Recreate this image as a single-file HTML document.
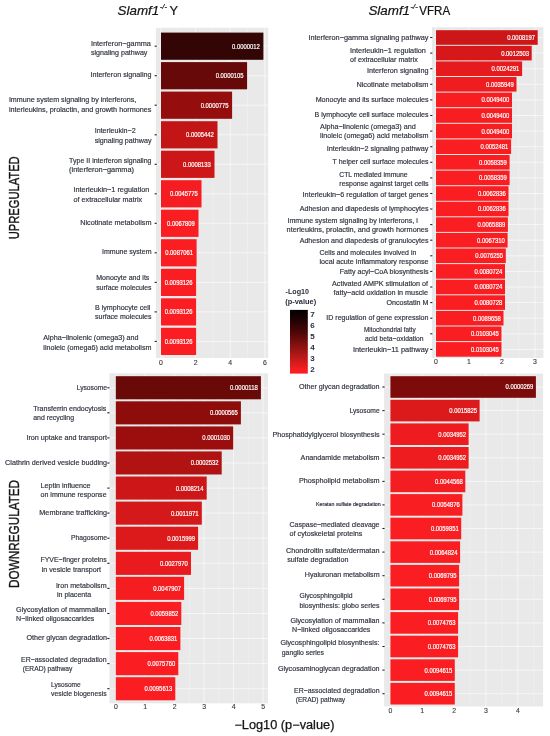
<!DOCTYPE html>
<html lang="en"><head><meta charset="utf-8"><title>Slamf1 pathway enrichment</title>
<style>
html,body{margin:0;padding:0;background:#ffffff;}
svg{display:block;font-family:"Liberation Sans", sans-serif;}
svg text{white-space:pre;}
</style></head><body>
<svg width="550" height="736" viewBox="0 0 550 736">
<rect width="550" height="736" fill="#ffffff"/>
<rect x="155.9" y="27.8" width="112.3" height="330.2" fill="#e9e9e9"/>
<line x1="178.3" x2="178.3" y1="27.8" y2="358.0" stroke="#f1f1f1" stroke-width="0.7"/>
<line x1="212.9" x2="212.9" y1="27.8" y2="358.0" stroke="#f1f1f1" stroke-width="0.7"/>
<line x1="247.5" x2="247.5" y1="27.8" y2="358.0" stroke="#f1f1f1" stroke-width="0.7"/>
<line x1="161.0" x2="161.0" y1="27.8" y2="358.0" stroke="#f7f7f7" stroke-width="0.9"/>
<line x1="195.6" x2="195.6" y1="27.8" y2="358.0" stroke="#f7f7f7" stroke-width="0.9"/>
<line x1="230.2" x2="230.2" y1="27.8" y2="358.0" stroke="#f7f7f7" stroke-width="0.9"/>
<line x1="264.8" x2="264.8" y1="27.8" y2="358.0" stroke="#f7f7f7" stroke-width="0.9"/>
<line x1="155.9" x2="268.2" y1="46.2" y2="46.2" stroke="#f7f7f7" stroke-width="0.9"/>
<line x1="155.9" x2="268.2" y1="75.7" y2="75.7" stroke="#f7f7f7" stroke-width="0.9"/>
<line x1="155.9" x2="268.2" y1="105.2" y2="105.2" stroke="#f7f7f7" stroke-width="0.9"/>
<line x1="155.9" x2="268.2" y1="134.8" y2="134.8" stroke="#f7f7f7" stroke-width="0.9"/>
<line x1="155.9" x2="268.2" y1="164.3" y2="164.3" stroke="#f7f7f7" stroke-width="0.9"/>
<line x1="155.9" x2="268.2" y1="193.8" y2="193.8" stroke="#f7f7f7" stroke-width="0.9"/>
<line x1="155.9" x2="268.2" y1="223.3" y2="223.3" stroke="#f7f7f7" stroke-width="0.9"/>
<line x1="155.9" x2="268.2" y1="252.8" y2="252.8" stroke="#f7f7f7" stroke-width="0.9"/>
<line x1="155.9" x2="268.2" y1="282.4" y2="282.4" stroke="#f7f7f7" stroke-width="0.9"/>
<line x1="155.9" x2="268.2" y1="311.9" y2="311.9" stroke="#f7f7f7" stroke-width="0.9"/>
<line x1="155.9" x2="268.2" y1="341.4" y2="341.4" stroke="#f7f7f7" stroke-width="0.9"/>
<rect x="161.0" y="32.6" width="102.4" height="27.2" fill="#330504"/>
<text x="259.8" y="48.6" text-anchor="end" font-size="7.0" fill="#ffffff" stroke="#ffffff" stroke-width="0.2" textLength="27.8" lengthAdjust="spacingAndGlyphs">0.0000012</text>
<line x1="154.6" x2="156.79999999999998" y1="46.2" y2="46.2" stroke="#222" stroke-width="1.1"/>
<rect x="161.0" y="62.1" width="86.1" height="27.2" fill="#660908"/>
<text x="243.5" y="78.1" text-anchor="end" font-size="7.0" fill="#ffffff" stroke="#ffffff" stroke-width="0.2" textLength="27.8" lengthAdjust="spacingAndGlyphs">0.0000105</text>
<line x1="154.6" x2="156.79999999999998" y1="75.7" y2="75.7" stroke="#222" stroke-width="1.1"/>
<rect x="161.0" y="91.6" width="71.1" height="27.2" fill="#950d0c"/>
<text x="228.5" y="107.6" text-anchor="end" font-size="7.0" fill="#ffffff" stroke="#ffffff" stroke-width="0.2" textLength="27.8" lengthAdjust="spacingAndGlyphs">0.0000775</text>
<line x1="154.6" x2="156.79999999999998" y1="105.2" y2="105.2" stroke="#222" stroke-width="1.1"/>
<rect x="161.0" y="121.2" width="56.5" height="27.2" fill="#c31516"/>
<text x="213.9" y="137.2" text-anchor="end" font-size="7.0" fill="#ffffff" stroke="#ffffff" stroke-width="0.2" textLength="27.8" lengthAdjust="spacingAndGlyphs">0.0005442</text>
<line x1="154.6" x2="156.79999999999998" y1="134.8" y2="134.8" stroke="#222" stroke-width="1.1"/>
<rect x="161.0" y="150.7" width="53.5" height="27.2" fill="#cc1618"/>
<text x="210.9" y="166.7" text-anchor="end" font-size="7.0" fill="#ffffff" stroke="#ffffff" stroke-width="0.2" textLength="27.8" lengthAdjust="spacingAndGlyphs">0.0008133</text>
<line x1="154.6" x2="156.79999999999998" y1="164.3" y2="164.3" stroke="#222" stroke-width="1.1"/>
<rect x="161.0" y="180.2" width="40.5" height="27.2" fill="#f51d21"/>
<text x="197.9" y="196.2" text-anchor="end" font-size="7.0" fill="#ffffff" stroke="#ffffff" stroke-width="0.2" textLength="27.8" lengthAdjust="spacingAndGlyphs">0.0045775</text>
<line x1="154.6" x2="156.79999999999998" y1="193.8" y2="193.8" stroke="#222" stroke-width="1.1"/>
<rect x="161.0" y="209.7" width="37.5" height="27.2" fill="#fa1e22"/>
<text x="194.9" y="225.7" text-anchor="end" font-size="7.0" fill="#ffffff" stroke="#ffffff" stroke-width="0.2" textLength="27.8" lengthAdjust="spacingAndGlyphs">0.0067809</text>
<line x1="154.6" x2="156.79999999999998" y1="223.3" y2="223.3" stroke="#222" stroke-width="1.1"/>
<rect x="161.0" y="239.2" width="35.6" height="27.2" fill="#fa1e22"/>
<text x="193.0" y="255.2" text-anchor="end" font-size="7.0" fill="#ffffff" stroke="#ffffff" stroke-width="0.2" textLength="27.8" lengthAdjust="spacingAndGlyphs">0.0087061</text>
<line x1="154.6" x2="156.79999999999998" y1="252.8" y2="252.8" stroke="#222" stroke-width="1.1"/>
<rect x="161.0" y="268.8" width="35.1" height="27.2" fill="#fa1e22"/>
<text x="192.5" y="284.8" text-anchor="end" font-size="7.0" fill="#ffffff" stroke="#ffffff" stroke-width="0.2" textLength="27.8" lengthAdjust="spacingAndGlyphs">0.0093126</text>
<line x1="154.6" x2="156.79999999999998" y1="282.4" y2="282.4" stroke="#222" stroke-width="1.1"/>
<rect x="161.0" y="298.3" width="35.1" height="27.2" fill="#fa1e22"/>
<text x="192.5" y="314.3" text-anchor="end" font-size="7.0" fill="#ffffff" stroke="#ffffff" stroke-width="0.2" textLength="27.8" lengthAdjust="spacingAndGlyphs">0.0093126</text>
<line x1="154.6" x2="156.79999999999998" y1="311.9" y2="311.9" stroke="#222" stroke-width="1.1"/>
<rect x="161.0" y="327.8" width="35.1" height="27.2" fill="#fa1e22"/>
<text x="192.5" y="343.8" text-anchor="end" font-size="7.0" fill="#ffffff" stroke="#ffffff" stroke-width="0.2" textLength="27.8" lengthAdjust="spacingAndGlyphs">0.0093126</text>
<line x1="154.6" x2="156.79999999999998" y1="341.4" y2="341.4" stroke="#222" stroke-width="1.1"/>
<text x="91.0" y="45.6" font-size="7.3" fill="#30343f" stroke="#30343f" stroke-width="0.18" textLength="59.9" lengthAdjust="spacingAndGlyphs">Interferon−gamma</text>
<text x="91.0" y="54.9" font-size="7.3" fill="#30343f" stroke="#30343f" stroke-width="0.18" textLength="56.4" lengthAdjust="spacingAndGlyphs">signaling pathway</text>
<text x="151.5" y="76.7" text-anchor="end" font-size="7.3" fill="#30343f" stroke="#30343f" stroke-width="0.18" textLength="61.1" lengthAdjust="spacingAndGlyphs">Interferon signaling</text>
<text x="8.9" y="102.3" font-size="7.3" fill="#30343f" stroke="#30343f" stroke-width="0.18" textLength="127.4" lengthAdjust="spacingAndGlyphs">Immune system signaling by interferons,</text>
<text x="8.9" y="112.0" font-size="7.3" fill="#30343f" stroke="#30343f" stroke-width="0.18" textLength="142.6" lengthAdjust="spacingAndGlyphs">interleukins, prolactin, and growth hormones</text>
<text x="94.7" y="132.9" font-size="7.3" fill="#30343f" stroke="#30343f" stroke-width="0.18" textLength="41.0" lengthAdjust="spacingAndGlyphs">Interleukin−2</text>
<text x="94.7" y="142.8" font-size="7.3" fill="#30343f" stroke="#30343f" stroke-width="0.18" textLength="56.8" lengthAdjust="spacingAndGlyphs">signaling pathway</text>
<text x="69.1" y="162.5" font-size="7.3" fill="#30343f" stroke="#30343f" stroke-width="0.18" textLength="82.4" lengthAdjust="spacingAndGlyphs">Type II interferon signaling</text>
<text x="69.1" y="172.1" font-size="7.3" fill="#30343f" stroke="#30343f" stroke-width="0.18" textLength="64.9" lengthAdjust="spacingAndGlyphs">(interferon−gamma)</text>
<text x="73.5" y="192.0" font-size="7.3" fill="#30343f" stroke="#30343f" stroke-width="0.18" textLength="75.9" lengthAdjust="spacingAndGlyphs">Interleukin−1 regulation</text>
<text x="73.5" y="201.7" font-size="7.3" fill="#30343f" stroke="#30343f" stroke-width="0.18" textLength="68.6" lengthAdjust="spacingAndGlyphs">of extracellular matrix</text>
<text x="151.5" y="225.1" text-anchor="end" font-size="7.3" fill="#30343f" stroke="#30343f" stroke-width="0.18" textLength="71.3" lengthAdjust="spacingAndGlyphs">Nicotinate metabolism</text>
<text x="151.5" y="254.1" text-anchor="end" font-size="7.3" fill="#30343f" stroke="#30343f" stroke-width="0.18" textLength="49.5" lengthAdjust="spacingAndGlyphs">Immune system</text>
<text x="96.2" y="279.8" font-size="7.3" fill="#30343f" stroke="#30343f" stroke-width="0.18" textLength="53.2" lengthAdjust="spacingAndGlyphs">Monocyte and its</text>
<text x="96.2" y="289.5" font-size="7.3" fill="#30343f" stroke="#30343f" stroke-width="0.18" textLength="55.3" lengthAdjust="spacingAndGlyphs">surface molecules</text>
<text x="95.0" y="309.8" font-size="7.3" fill="#30343f" stroke="#30343f" stroke-width="0.18" textLength="55.3" lengthAdjust="spacingAndGlyphs">B lymphocyte cell</text>
<text x="95.0" y="319.2" font-size="7.3" fill="#30343f" stroke="#30343f" stroke-width="0.18" textLength="56.5" lengthAdjust="spacingAndGlyphs">surface molecules</text>
<text x="43.3" y="340.2" font-size="7.3" fill="#30343f" stroke="#30343f" stroke-width="0.18" textLength="95.3" lengthAdjust="spacingAndGlyphs">Alpha−linolenic (omega3) and</text>
<text x="43.3" y="349.6" font-size="7.3" fill="#30343f" stroke="#30343f" stroke-width="0.18" textLength="108.2" lengthAdjust="spacingAndGlyphs">linoleic (omega6) acid metabolism</text>
<text x="161.0" y="364.5" text-anchor="middle" font-size="6.9" fill="#3a3a3a" stroke="#3a3a3a" stroke-width="0.12">0</text>
<text x="195.6" y="364.5" text-anchor="middle" font-size="6.9" fill="#3a3a3a" stroke="#3a3a3a" stroke-width="0.12">2</text>
<text x="230.2" y="364.5" text-anchor="middle" font-size="6.9" fill="#3a3a3a" stroke="#3a3a3a" stroke-width="0.12">4</text>
<text x="264.8" y="364.5" text-anchor="middle" font-size="6.9" fill="#3a3a3a" stroke="#3a3a3a" stroke-width="0.12">6</text>
<rect x="431.9" y="27.2" width="111.5" height="330.8" fill="#e9e9e9"/>
<line x1="452.5" x2="452.5" y1="27.2" y2="358.0" stroke="#f1f1f1" stroke-width="0.7"/>
<line x1="485.4" x2="485.4" y1="27.2" y2="358.0" stroke="#f1f1f1" stroke-width="0.7"/>
<line x1="518.4" x2="518.4" y1="27.2" y2="358.0" stroke="#f1f1f1" stroke-width="0.7"/>
<line x1="436.0" x2="436.0" y1="27.2" y2="358.0" stroke="#f7f7f7" stroke-width="0.9"/>
<line x1="468.9" x2="468.9" y1="27.2" y2="358.0" stroke="#f7f7f7" stroke-width="0.9"/>
<line x1="501.9" x2="501.9" y1="27.2" y2="358.0" stroke="#f7f7f7" stroke-width="0.9"/>
<line x1="534.9" x2="534.9" y1="27.2" y2="358.0" stroke="#f7f7f7" stroke-width="0.9"/>
<line x1="431.9" x2="543.4" y1="37.5" y2="37.5" stroke="#f7f7f7" stroke-width="0.9"/>
<line x1="431.9" x2="543.4" y1="53.1" y2="53.1" stroke="#f7f7f7" stroke-width="0.9"/>
<line x1="431.9" x2="543.4" y1="68.7" y2="68.7" stroke="#f7f7f7" stroke-width="0.9"/>
<line x1="431.9" x2="543.4" y1="84.3" y2="84.3" stroke="#f7f7f7" stroke-width="0.9"/>
<line x1="431.9" x2="543.4" y1="99.9" y2="99.9" stroke="#f7f7f7" stroke-width="0.9"/>
<line x1="431.9" x2="543.4" y1="115.5" y2="115.5" stroke="#f7f7f7" stroke-width="0.9"/>
<line x1="431.9" x2="543.4" y1="131.1" y2="131.1" stroke="#f7f7f7" stroke-width="0.9"/>
<line x1="431.9" x2="543.4" y1="146.7" y2="146.7" stroke="#f7f7f7" stroke-width="0.9"/>
<line x1="431.9" x2="543.4" y1="162.3" y2="162.3" stroke="#f7f7f7" stroke-width="0.9"/>
<line x1="431.9" x2="543.4" y1="177.9" y2="177.9" stroke="#f7f7f7" stroke-width="0.9"/>
<line x1="431.9" x2="543.4" y1="193.5" y2="193.5" stroke="#f7f7f7" stroke-width="0.9"/>
<line x1="431.9" x2="543.4" y1="209.0" y2="209.0" stroke="#f7f7f7" stroke-width="0.9"/>
<line x1="431.9" x2="543.4" y1="224.6" y2="224.6" stroke="#f7f7f7" stroke-width="0.9"/>
<line x1="431.9" x2="543.4" y1="240.2" y2="240.2" stroke="#f7f7f7" stroke-width="0.9"/>
<line x1="431.9" x2="543.4" y1="255.8" y2="255.8" stroke="#f7f7f7" stroke-width="0.9"/>
<line x1="431.9" x2="543.4" y1="271.4" y2="271.4" stroke="#f7f7f7" stroke-width="0.9"/>
<line x1="431.9" x2="543.4" y1="287.0" y2="287.0" stroke="#f7f7f7" stroke-width="0.9"/>
<line x1="431.9" x2="543.4" y1="302.6" y2="302.6" stroke="#f7f7f7" stroke-width="0.9"/>
<line x1="431.9" x2="543.4" y1="318.2" y2="318.2" stroke="#f7f7f7" stroke-width="0.9"/>
<line x1="431.9" x2="543.4" y1="333.8" y2="333.8" stroke="#f7f7f7" stroke-width="0.9"/>
<line x1="431.9" x2="543.4" y1="349.4" y2="349.4" stroke="#f7f7f7" stroke-width="0.9"/>
<rect x="436.0" y="30.2" width="101.7" height="14.6" fill="#cc1618"/>
<text x="535.0" y="39.9" text-anchor="end" font-size="7.0" fill="#ffffff" stroke="#ffffff" stroke-width="0.2" textLength="27.8" lengthAdjust="spacingAndGlyphs">0.0008197</text>
<line x1="430.2" x2="432.4" y1="37.5" y2="37.5" stroke="#222" stroke-width="1.1"/>
<rect x="436.0" y="45.8" width="95.7" height="14.6" fill="#d6181a"/>
<text x="529.0" y="55.5" text-anchor="end" font-size="7.0" fill="#ffffff" stroke="#ffffff" stroke-width="0.2" textLength="27.8" lengthAdjust="spacingAndGlyphs">0.0012503</text>
<line x1="430.2" x2="432.4" y1="53.1" y2="53.1" stroke="#222" stroke-width="1.1"/>
<rect x="436.0" y="61.4" width="86.1" height="14.6" fill="#e61b1e"/>
<text x="519.4" y="71.1" text-anchor="end" font-size="7.0" fill="#ffffff" stroke="#ffffff" stroke-width="0.2" textLength="27.8" lengthAdjust="spacingAndGlyphs">0.0024291</text>
<line x1="430.2" x2="432.4" y1="68.7" y2="68.7" stroke="#222" stroke-width="1.1"/>
<rect x="436.0" y="77.0" width="80.5" height="14.6" fill="#ef1c20"/>
<text x="513.8" y="86.7" text-anchor="end" font-size="7.0" fill="#ffffff" stroke="#ffffff" stroke-width="0.2" textLength="27.8" lengthAdjust="spacingAndGlyphs">0.0035949</text>
<line x1="430.2" x2="432.4" y1="84.3" y2="84.3" stroke="#222" stroke-width="1.1"/>
<rect x="436.0" y="92.6" width="76.0" height="14.6" fill="#f71d21"/>
<text x="509.3" y="102.3" text-anchor="end" font-size="7.0" fill="#ffffff" stroke="#ffffff" stroke-width="0.2" textLength="27.8" lengthAdjust="spacingAndGlyphs">0.0049400</text>
<line x1="430.2" x2="432.4" y1="99.9" y2="99.9" stroke="#222" stroke-width="1.1"/>
<rect x="436.0" y="108.2" width="76.0" height="14.6" fill="#f71d21"/>
<text x="509.3" y="117.9" text-anchor="end" font-size="7.0" fill="#ffffff" stroke="#ffffff" stroke-width="0.2" textLength="27.8" lengthAdjust="spacingAndGlyphs">0.0049400</text>
<line x1="430.2" x2="432.4" y1="115.5" y2="115.5" stroke="#222" stroke-width="1.1"/>
<rect x="436.0" y="123.8" width="76.0" height="14.6" fill="#f71d21"/>
<text x="509.3" y="133.5" text-anchor="end" font-size="7.0" fill="#ffffff" stroke="#ffffff" stroke-width="0.2" textLength="27.8" lengthAdjust="spacingAndGlyphs">0.0049400</text>
<line x1="430.2" x2="432.4" y1="131.1" y2="131.1" stroke="#222" stroke-width="1.1"/>
<rect x="436.0" y="139.4" width="75.1" height="14.6" fill="#f81e22"/>
<text x="508.4" y="149.1" text-anchor="end" font-size="7.0" fill="#ffffff" stroke="#ffffff" stroke-width="0.2" textLength="27.8" lengthAdjust="spacingAndGlyphs">0.0052481</text>
<line x1="430.2" x2="432.4" y1="146.7" y2="146.7" stroke="#222" stroke-width="1.1"/>
<rect x="436.0" y="155.0" width="73.6" height="14.6" fill="#fa1e22"/>
<text x="506.9" y="164.7" text-anchor="end" font-size="7.0" fill="#ffffff" stroke="#ffffff" stroke-width="0.2" textLength="27.8" lengthAdjust="spacingAndGlyphs">0.0058359</text>
<line x1="430.2" x2="432.4" y1="162.3" y2="162.3" stroke="#222" stroke-width="1.1"/>
<rect x="436.0" y="170.6" width="73.6" height="14.6" fill="#fa1e22"/>
<text x="506.9" y="180.3" text-anchor="end" font-size="7.0" fill="#ffffff" stroke="#ffffff" stroke-width="0.2" textLength="27.8" lengthAdjust="spacingAndGlyphs">0.0058359</text>
<line x1="430.2" x2="432.4" y1="177.9" y2="177.9" stroke="#222" stroke-width="1.1"/>
<rect x="436.0" y="186.2" width="72.5" height="14.6" fill="#fa1e22"/>
<text x="505.8" y="195.9" text-anchor="end" font-size="7.0" fill="#ffffff" stroke="#ffffff" stroke-width="0.2" textLength="27.8" lengthAdjust="spacingAndGlyphs">0.0062836</text>
<line x1="430.2" x2="432.4" y1="193.5" y2="193.5" stroke="#222" stroke-width="1.1"/>
<rect x="436.0" y="201.7" width="72.5" height="14.6" fill="#fa1e22"/>
<text x="505.8" y="211.4" text-anchor="end" font-size="7.0" fill="#ffffff" stroke="#ffffff" stroke-width="0.2" textLength="27.8" lengthAdjust="spacingAndGlyphs">0.0062836</text>
<line x1="430.2" x2="432.4" y1="209.0" y2="209.0" stroke="#222" stroke-width="1.1"/>
<rect x="436.0" y="217.3" width="71.9" height="14.6" fill="#fa1e22"/>
<text x="505.2" y="227.0" text-anchor="end" font-size="7.0" fill="#ffffff" stroke="#ffffff" stroke-width="0.2" textLength="27.8" lengthAdjust="spacingAndGlyphs">0.0065889</text>
<line x1="430.2" x2="432.4" y1="224.6" y2="224.6" stroke="#222" stroke-width="1.1"/>
<rect x="436.0" y="232.9" width="71.6" height="14.6" fill="#fa1e22"/>
<text x="504.9" y="242.6" text-anchor="end" font-size="7.0" fill="#ffffff" stroke="#ffffff" stroke-width="0.2" textLength="27.8" lengthAdjust="spacingAndGlyphs">0.0067310</text>
<line x1="430.2" x2="432.4" y1="240.2" y2="240.2" stroke="#222" stroke-width="1.1"/>
<rect x="436.0" y="248.5" width="69.8" height="14.6" fill="#fa1e22"/>
<text x="503.1" y="258.2" text-anchor="end" font-size="7.0" fill="#ffffff" stroke="#ffffff" stroke-width="0.2" textLength="27.8" lengthAdjust="spacingAndGlyphs">0.0076255</text>
<line x1="430.2" x2="432.4" y1="255.8" y2="255.8" stroke="#222" stroke-width="1.1"/>
<rect x="436.0" y="264.1" width="69.0" height="14.6" fill="#fa1e22"/>
<text x="502.3" y="273.8" text-anchor="end" font-size="7.0" fill="#ffffff" stroke="#ffffff" stroke-width="0.2" textLength="27.8" lengthAdjust="spacingAndGlyphs">0.0080724</text>
<line x1="430.2" x2="432.4" y1="271.4" y2="271.4" stroke="#222" stroke-width="1.1"/>
<rect x="436.0" y="279.7" width="69.0" height="14.6" fill="#fa1e22"/>
<text x="502.3" y="289.4" text-anchor="end" font-size="7.0" fill="#ffffff" stroke="#ffffff" stroke-width="0.2" textLength="27.8" lengthAdjust="spacingAndGlyphs">0.0080724</text>
<line x1="430.2" x2="432.4" y1="287.0" y2="287.0" stroke="#222" stroke-width="1.1"/>
<rect x="436.0" y="295.3" width="69.0" height="14.6" fill="#fa1e22"/>
<text x="502.3" y="305.0" text-anchor="end" font-size="7.0" fill="#ffffff" stroke="#ffffff" stroke-width="0.2" textLength="27.8" lengthAdjust="spacingAndGlyphs">0.0080728</text>
<line x1="430.2" x2="432.4" y1="302.6" y2="302.6" stroke="#222" stroke-width="1.1"/>
<rect x="436.0" y="310.9" width="67.5" height="14.6" fill="#fa1e22"/>
<text x="500.8" y="320.6" text-anchor="end" font-size="7.0" fill="#ffffff" stroke="#ffffff" stroke-width="0.2" textLength="27.8" lengthAdjust="spacingAndGlyphs">0.0089658</text>
<line x1="430.2" x2="432.4" y1="318.2" y2="318.2" stroke="#222" stroke-width="1.1"/>
<rect x="436.0" y="326.5" width="65.5" height="14.6" fill="#fa1e22"/>
<text x="498.8" y="336.2" text-anchor="end" font-size="7.0" fill="#ffffff" stroke="#ffffff" stroke-width="0.2" textLength="27.8" lengthAdjust="spacingAndGlyphs">0.0103045</text>
<line x1="430.2" x2="432.4" y1="333.8" y2="333.8" stroke="#222" stroke-width="1.1"/>
<rect x="436.0" y="342.1" width="65.5" height="14.6" fill="#fa1e22"/>
<text x="498.8" y="351.8" text-anchor="end" font-size="7.0" fill="#ffffff" stroke="#ffffff" stroke-width="0.2" textLength="27.8" lengthAdjust="spacingAndGlyphs">0.0103045</text>
<line x1="430.2" x2="432.4" y1="349.4" y2="349.4" stroke="#222" stroke-width="1.1"/>
<text x="428.5" y="40.3" text-anchor="end" font-size="7.3" fill="#30343f" stroke="#30343f" stroke-width="0.18" textLength="120.1" lengthAdjust="spacingAndGlyphs">Interferon−gamma signaling pathway</text>
<text x="350.0" y="52.8" font-size="7.3" fill="#30343f" stroke="#30343f" stroke-width="0.18" textLength="75.9" lengthAdjust="spacingAndGlyphs">Interleukin−1 regulation</text>
<text x="350.0" y="62.2" font-size="7.3" fill="#30343f" stroke="#30343f" stroke-width="0.18" textLength="67.8" lengthAdjust="spacingAndGlyphs">of extracellular matrix</text>
<text x="428.5" y="72.6" text-anchor="end" font-size="7.3" fill="#30343f" stroke="#30343f" stroke-width="0.18" textLength="61.6" lengthAdjust="spacingAndGlyphs">Interferon signaling</text>
<text x="428.5" y="86.9" text-anchor="end" font-size="7.3" fill="#30343f" stroke="#30343f" stroke-width="0.18" textLength="72.1" lengthAdjust="spacingAndGlyphs">Nicotinate metabolism</text>
<text x="428.5" y="101.7" text-anchor="end" font-size="7.3" fill="#30343f" stroke="#30343f" stroke-width="0.18" textLength="112.8" lengthAdjust="spacingAndGlyphs">Monocyte and its surface molecules</text>
<text x="428.5" y="116.8" text-anchor="end" font-size="7.3" fill="#30343f" stroke="#30343f" stroke-width="0.18" textLength="114.0" lengthAdjust="spacingAndGlyphs">B lymphocyte cell surface molecules</text>
<text x="320.1" y="129.1" font-size="7.3" fill="#30343f" stroke="#30343f" stroke-width="0.18" textLength="95.6" lengthAdjust="spacingAndGlyphs">Alpha−linolenic (omega3) and</text>
<text x="320.1" y="138.1" font-size="7.3" fill="#30343f" stroke="#30343f" stroke-width="0.18" textLength="108.4" lengthAdjust="spacingAndGlyphs">linoleic (omega6) acid metabolism</text>
<text x="428.5" y="150.6" text-anchor="end" font-size="7.3" fill="#30343f" stroke="#30343f" stroke-width="0.18" textLength="101.8" lengthAdjust="spacingAndGlyphs">Interleukin−2 signaling pathway</text>
<text x="428.5" y="164.3" text-anchor="end" font-size="7.3" fill="#30343f" stroke="#30343f" stroke-width="0.18" textLength="95.9" lengthAdjust="spacingAndGlyphs">T helper cell surface molecules</text>
<text x="339.3" y="176.8" font-size="7.3" fill="#30343f" stroke="#30343f" stroke-width="0.18" textLength="68.3" lengthAdjust="spacingAndGlyphs">CTL mediated immune</text>
<text x="339.3" y="186.1" font-size="7.3" fill="#30343f" stroke="#30343f" stroke-width="0.18" textLength="89.2" lengthAdjust="spacingAndGlyphs">response against target cells</text>
<text x="428.5" y="196.9" text-anchor="end" font-size="7.3" fill="#30343f" stroke="#30343f" stroke-width="0.18" textLength="125.9" lengthAdjust="spacingAndGlyphs">Interleukin−6 regulation of target genes</text>
<text x="428.5" y="211.4" text-anchor="end" font-size="7.3" fill="#30343f" stroke="#30343f" stroke-width="0.18" textLength="128.8" lengthAdjust="spacingAndGlyphs">Adhesion and diapedesis of lymphocytes</text>
<text x="287.5" y="222.8" font-size="7.3" fill="#30343f" stroke="#30343f" stroke-width="0.18" textLength="130.3" lengthAdjust="spacingAndGlyphs">Immune system signaling by interferons, i</text>
<text x="286.6" y="232.1" font-size="7.3" fill="#30343f" stroke="#30343f" stroke-width="0.18" textLength="141.9" lengthAdjust="spacingAndGlyphs">nterleukins, prolactin, and growth hormones</text>
<text x="428.5" y="243.4" text-anchor="end" font-size="7.3" fill="#30343f" stroke="#30343f" stroke-width="0.18" textLength="128.8" lengthAdjust="spacingAndGlyphs">Adhesion and diapedesis of granulocytes</text>
<text x="319.5" y="254.8" font-size="7.3" fill="#30343f" stroke="#30343f" stroke-width="0.18" textLength="96.8" lengthAdjust="spacingAndGlyphs">Cells and molecules involved in</text>
<text x="319.5" y="264.1" font-size="7.3" fill="#30343f" stroke="#30343f" stroke-width="0.18" textLength="109.0" lengthAdjust="spacingAndGlyphs">local acute inflammatory response</text>
<text x="428.5" y="273.7" text-anchor="end" font-size="7.3" fill="#30343f" stroke="#30343f" stroke-width="0.18" textLength="88.7" lengthAdjust="spacingAndGlyphs">Fatty acyl−CoA biosynthesis</text>
<text x="332.0" y="285.9" font-size="7.3" fill="#30343f" stroke="#30343f" stroke-width="0.18" textLength="96.0" lengthAdjust="spacingAndGlyphs">Activated AMPK stimulation of</text>
<text x="333.4" y="294.7" font-size="7.3" fill="#30343f" stroke="#30343f" stroke-width="0.18" textLength="94.6" lengthAdjust="spacingAndGlyphs">fatty−acid oxidation in muscle</text>
<text x="428.5" y="304.6" text-anchor="end" font-size="7.3" fill="#30343f" stroke="#30343f" stroke-width="0.18" textLength="42.1" lengthAdjust="spacingAndGlyphs">Oncostatin M</text>
<text x="428.5" y="320.0" text-anchor="end" font-size="7.3" fill="#30343f" stroke="#30343f" stroke-width="0.18" textLength="102.3" lengthAdjust="spacingAndGlyphs">ID regulation of gene expression</text>
<text x="364.0" y="331.9" font-size="7.3" fill="#30343f" stroke="#30343f" stroke-width="0.18" textLength="51.7" lengthAdjust="spacingAndGlyphs">Mitochondrial fatty</text>
<text x="365.1" y="341.2" font-size="7.3" fill="#30343f" stroke="#30343f" stroke-width="0.18" textLength="58.5" lengthAdjust="spacingAndGlyphs">acid beta−oxidation</text>
<text x="428.5" y="352.0" text-anchor="end" font-size="7.3" fill="#30343f" stroke="#30343f" stroke-width="0.18" textLength="75.6" lengthAdjust="spacingAndGlyphs">Interleukin−11 pathway</text>
<text x="436.0" y="364.1" text-anchor="middle" font-size="6.9" fill="#3a3a3a" stroke="#3a3a3a" stroke-width="0.12">0</text>
<text x="468.9" y="364.1" text-anchor="middle" font-size="6.9" fill="#3a3a3a" stroke="#3a3a3a" stroke-width="0.12">1</text>
<text x="501.9" y="364.1" text-anchor="middle" font-size="6.9" fill="#3a3a3a" stroke="#3a3a3a" stroke-width="0.12">2</text>
<text x="534.9" y="364.1" text-anchor="middle" font-size="6.9" fill="#3a3a3a" stroke="#3a3a3a" stroke-width="0.12">3</text>
<rect x="109.4" y="373.3" width="158.6" height="330.0" fill="#e9e9e9"/>
<line x1="130.5" x2="130.5" y1="373.3" y2="703.3" stroke="#f1f1f1" stroke-width="0.7"/>
<line x1="160.0" x2="160.0" y1="373.3" y2="703.3" stroke="#f1f1f1" stroke-width="0.7"/>
<line x1="189.4" x2="189.4" y1="373.3" y2="703.3" stroke="#f1f1f1" stroke-width="0.7"/>
<line x1="218.9" x2="218.9" y1="373.3" y2="703.3" stroke="#f1f1f1" stroke-width="0.7"/>
<line x1="248.3" x2="248.3" y1="373.3" y2="703.3" stroke="#f1f1f1" stroke-width="0.7"/>
<line x1="115.8" x2="115.8" y1="373.3" y2="703.3" stroke="#f7f7f7" stroke-width="0.9"/>
<line x1="145.2" x2="145.2" y1="373.3" y2="703.3" stroke="#f7f7f7" stroke-width="0.9"/>
<line x1="174.7" x2="174.7" y1="373.3" y2="703.3" stroke="#f7f7f7" stroke-width="0.9"/>
<line x1="204.1" x2="204.1" y1="373.3" y2="703.3" stroke="#f7f7f7" stroke-width="0.9"/>
<line x1="233.6" x2="233.6" y1="373.3" y2="703.3" stroke="#f7f7f7" stroke-width="0.9"/>
<line x1="263.1" x2="263.1" y1="373.3" y2="703.3" stroke="#f7f7f7" stroke-width="0.9"/>
<line x1="109.4" x2="268.0" y1="387.8" y2="387.8" stroke="#f7f7f7" stroke-width="0.9"/>
<line x1="109.4" x2="268.0" y1="412.8" y2="412.8" stroke="#f7f7f7" stroke-width="0.9"/>
<line x1="109.4" x2="268.0" y1="437.9" y2="437.9" stroke="#f7f7f7" stroke-width="0.9"/>
<line x1="109.4" x2="268.0" y1="463.0" y2="463.0" stroke="#f7f7f7" stroke-width="0.9"/>
<line x1="109.4" x2="268.0" y1="488.1" y2="488.1" stroke="#f7f7f7" stroke-width="0.9"/>
<line x1="109.4" x2="268.0" y1="513.1" y2="513.1" stroke="#f7f7f7" stroke-width="0.9"/>
<line x1="109.4" x2="268.0" y1="538.2" y2="538.2" stroke="#f7f7f7" stroke-width="0.9"/>
<line x1="109.4" x2="268.0" y1="563.3" y2="563.3" stroke="#f7f7f7" stroke-width="0.9"/>
<line x1="109.4" x2="268.0" y1="588.4" y2="588.4" stroke="#f7f7f7" stroke-width="0.9"/>
<line x1="109.4" x2="268.0" y1="613.5" y2="613.5" stroke="#f7f7f7" stroke-width="0.9"/>
<line x1="109.4" x2="268.0" y1="638.5" y2="638.5" stroke="#f7f7f7" stroke-width="0.9"/>
<line x1="109.4" x2="268.0" y1="663.6" y2="663.6" stroke="#f7f7f7" stroke-width="0.9"/>
<line x1="109.4" x2="268.0" y1="688.7" y2="688.7" stroke="#f7f7f7" stroke-width="0.9"/>
<rect x="115.8" y="376.2" width="145.1" height="23.1" fill="#690908"/>
<text x="257.8" y="390.1" text-anchor="end" font-size="7.0" fill="#ffffff" stroke="#ffffff" stroke-width="0.2" textLength="27.8" lengthAdjust="spacingAndGlyphs">0.0000118</text>
<line x1="107.3" x2="109.5" y1="387.8" y2="387.8" stroke="#222" stroke-width="1.1"/>
<rect x="115.8" y="401.3" width="125.1" height="23.1" fill="#8e0d0b"/>
<text x="237.8" y="415.2" text-anchor="end" font-size="7.0" fill="#ffffff" stroke="#ffffff" stroke-width="0.2" textLength="27.8" lengthAdjust="spacingAndGlyphs">0.0000565</text>
<line x1="107.3" x2="109.5" y1="412.8" y2="412.8" stroke="#222" stroke-width="1.1"/>
<rect x="115.8" y="426.4" width="117.4" height="23.1" fill="#9c0e0d"/>
<text x="230.1" y="440.3" text-anchor="end" font-size="7.0" fill="#ffffff" stroke="#ffffff" stroke-width="0.2" textLength="27.8" lengthAdjust="spacingAndGlyphs">0.0001030</text>
<line x1="107.3" x2="109.5" y1="437.9" y2="437.9" stroke="#222" stroke-width="1.1"/>
<rect x="115.8" y="451.4" width="105.9" height="23.1" fill="#b11212"/>
<text x="218.6" y="465.4" text-anchor="end" font-size="7.0" fill="#ffffff" stroke="#ffffff" stroke-width="0.2" textLength="27.8" lengthAdjust="spacingAndGlyphs">0.0002532</text>
<line x1="107.3" x2="109.5" y1="463.0" y2="463.0" stroke="#222" stroke-width="1.1"/>
<rect x="115.8" y="476.5" width="90.9" height="23.1" fill="#cc1618"/>
<text x="203.6" y="490.5" text-anchor="end" font-size="7.0" fill="#ffffff" stroke="#ffffff" stroke-width="0.2" textLength="27.8" lengthAdjust="spacingAndGlyphs">0.0008214</text>
<line x1="107.3" x2="109.5" y1="488.1" y2="488.1" stroke="#222" stroke-width="1.1"/>
<rect x="115.8" y="501.6" width="86.0" height="23.1" fill="#d5181a"/>
<text x="198.7" y="515.5" text-anchor="end" font-size="7.0" fill="#ffffff" stroke="#ffffff" stroke-width="0.2" textLength="27.8" lengthAdjust="spacingAndGlyphs">0.0011971</text>
<line x1="107.3" x2="109.5" y1="513.1" y2="513.1" stroke="#222" stroke-width="1.1"/>
<rect x="115.8" y="526.7" width="82.3" height="23.1" fill="#dc191b"/>
<text x="195.0" y="540.6" text-anchor="end" font-size="7.0" fill="#ffffff" stroke="#ffffff" stroke-width="0.2" textLength="27.8" lengthAdjust="spacingAndGlyphs">0.0015999</text>
<line x1="107.3" x2="109.5" y1="538.2" y2="538.2" stroke="#222" stroke-width="1.1"/>
<rect x="115.8" y="551.8" width="75.2" height="23.1" fill="#e91b1e"/>
<text x="187.9" y="565.7" text-anchor="end" font-size="7.0" fill="#ffffff" stroke="#ffffff" stroke-width="0.2" textLength="27.8" lengthAdjust="spacingAndGlyphs">0.0027970</text>
<line x1="107.3" x2="109.5" y1="563.3" y2="563.3" stroke="#222" stroke-width="1.1"/>
<rect x="115.8" y="576.8" width="68.3" height="23.1" fill="#f61d21"/>
<text x="181.0" y="590.8" text-anchor="end" font-size="7.0" fill="#ffffff" stroke="#ffffff" stroke-width="0.2" textLength="27.8" lengthAdjust="spacingAndGlyphs">0.0047907</text>
<line x1="107.3" x2="109.5" y1="588.4" y2="588.4" stroke="#222" stroke-width="1.1"/>
<rect x="115.8" y="601.9" width="65.5" height="23.1" fill="#fa1e22"/>
<text x="178.2" y="615.9" text-anchor="end" font-size="7.0" fill="#ffffff" stroke="#ffffff" stroke-width="0.2" textLength="27.8" lengthAdjust="spacingAndGlyphs">0.0059852</text>
<line x1="107.3" x2="109.5" y1="613.5" y2="613.5" stroke="#222" stroke-width="1.1"/>
<rect x="115.8" y="627.0" width="64.6" height="23.1" fill="#fa1e22"/>
<text x="177.3" y="640.9" text-anchor="end" font-size="7.0" fill="#ffffff" stroke="#ffffff" stroke-width="0.2" textLength="27.8" lengthAdjust="spacingAndGlyphs">0.0063831</text>
<line x1="107.3" x2="109.5" y1="638.5" y2="638.5" stroke="#222" stroke-width="1.1"/>
<rect x="115.8" y="652.1" width="62.5" height="23.1" fill="#fa1e22"/>
<text x="175.2" y="666.0" text-anchor="end" font-size="7.0" fill="#ffffff" stroke="#ffffff" stroke-width="0.2" textLength="27.8" lengthAdjust="spacingAndGlyphs">0.0075760</text>
<line x1="107.3" x2="109.5" y1="663.6" y2="663.6" stroke="#222" stroke-width="1.1"/>
<rect x="115.8" y="677.2" width="59.5" height="23.1" fill="#fa1e22"/>
<text x="172.2" y="691.1" text-anchor="end" font-size="7.0" fill="#ffffff" stroke="#ffffff" stroke-width="0.2" textLength="27.8" lengthAdjust="spacingAndGlyphs">0.0095613</text>
<line x1="107.3" x2="109.5" y1="688.7" y2="688.7" stroke="#222" stroke-width="1.1"/>
<text x="107.0" y="389.8" text-anchor="end" font-size="7.3" fill="#30343f" stroke="#30343f" stroke-width="0.18" textLength="30.3" lengthAdjust="spacingAndGlyphs">Lysosome</text>
<text x="33.2" y="410.6" font-size="7.3" fill="#30343f" stroke="#30343f" stroke-width="0.18" textLength="73.2" lengthAdjust="spacingAndGlyphs">Transferrin endocytosis</text>
<text x="33.2" y="419.8" font-size="7.3" fill="#30343f" stroke="#30343f" stroke-width="0.18" textLength="40.9" lengthAdjust="spacingAndGlyphs">and recycling</text>
<text x="107.0" y="439.6" text-anchor="end" font-size="7.3" fill="#30343f" stroke="#30343f" stroke-width="0.18" textLength="80.6" lengthAdjust="spacingAndGlyphs">Iron uptake and transport</text>
<text x="107.0" y="464.6" text-anchor="end" font-size="7.3" fill="#30343f" stroke="#30343f" stroke-width="0.18" textLength="101.9" lengthAdjust="spacingAndGlyphs">Clathrin derived vesicle budding</text>
<text x="40.5" y="487.5" font-size="7.3" fill="#30343f" stroke="#30343f" stroke-width="0.18" textLength="50.0" lengthAdjust="spacingAndGlyphs">Leptin influence</text>
<text x="40.5" y="496.8" font-size="7.3" fill="#30343f" stroke="#30343f" stroke-width="0.18" textLength="66.1" lengthAdjust="spacingAndGlyphs">on immune response</text>
<text x="107.0" y="514.7" text-anchor="end" font-size="7.3" fill="#30343f" stroke="#30343f" stroke-width="0.18" textLength="67.7" lengthAdjust="spacingAndGlyphs">Membrane trafficking</text>
<text x="107.0" y="539.8" text-anchor="end" font-size="7.3" fill="#30343f" stroke="#30343f" stroke-width="0.18" textLength="35.9" lengthAdjust="spacingAndGlyphs">Phagosome</text>
<text x="40.5" y="562.3" font-size="7.3" fill="#30343f" stroke="#30343f" stroke-width="0.18" textLength="66.1" lengthAdjust="spacingAndGlyphs">FYVE−finger proteins</text>
<text x="41.7" y="572.1" font-size="7.3" fill="#30343f" stroke="#30343f" stroke-width="0.18" textLength="59.3" lengthAdjust="spacingAndGlyphs">in vesicle transport</text>
<text x="55.9" y="587.5" font-size="7.3" fill="#30343f" stroke="#30343f" stroke-width="0.18" textLength="50.7" lengthAdjust="spacingAndGlyphs">Iron metabolism</text>
<text x="56.9" y="597.3" font-size="7.3" fill="#30343f" stroke="#30343f" stroke-width="0.18" textLength="34.3" lengthAdjust="spacingAndGlyphs">in placenta</text>
<text x="16.1" y="612.0" font-size="7.3" fill="#30343f" stroke="#30343f" stroke-width="0.18" textLength="90.3" lengthAdjust="spacingAndGlyphs">Glycosylation of mammalian</text>
<text x="16.1" y="621.2" font-size="7.3" fill="#30343f" stroke="#30343f" stroke-width="0.18" textLength="78.3" lengthAdjust="spacingAndGlyphs">N−linked oligosaccarides</text>
<text x="107.0" y="640.1" text-anchor="end" font-size="7.3" fill="#30343f" stroke="#30343f" stroke-width="0.18" textLength="80.6" lengthAdjust="spacingAndGlyphs">Other glycan degradation</text>
<text x="21.0" y="662.1" font-size="7.3" fill="#30343f" stroke="#30343f" stroke-width="0.18" textLength="85.6" lengthAdjust="spacingAndGlyphs">ER−associated degradation</text>
<text x="22.7" y="671.1" font-size="7.3" fill="#30343f" stroke="#30343f" stroke-width="0.18" textLength="49.7" lengthAdjust="spacingAndGlyphs">(ERAD) pathway</text>
<text x="51.0" y="687.0" font-size="7.3" fill="#30343f" stroke="#30343f" stroke-width="0.18" textLength="29.7" lengthAdjust="spacingAndGlyphs">Lysosome</text>
<text x="51.0" y="696.3" font-size="7.3" fill="#30343f" stroke="#30343f" stroke-width="0.18" textLength="55.6" lengthAdjust="spacingAndGlyphs">vesicle biogenesis</text>
<text x="115.8" y="709.2" text-anchor="middle" font-size="6.9" fill="#3a3a3a" stroke="#3a3a3a" stroke-width="0.12">0</text>
<text x="145.2" y="709.2" text-anchor="middle" font-size="6.9" fill="#3a3a3a" stroke="#3a3a3a" stroke-width="0.12">1</text>
<text x="174.7" y="709.2" text-anchor="middle" font-size="6.9" fill="#3a3a3a" stroke="#3a3a3a" stroke-width="0.12">2</text>
<text x="204.1" y="709.2" text-anchor="middle" font-size="6.9" fill="#3a3a3a" stroke="#3a3a3a" stroke-width="0.12">3</text>
<text x="233.6" y="709.2" text-anchor="middle" font-size="6.9" fill="#3a3a3a" stroke="#3a3a3a" stroke-width="0.12">4</text>
<text x="263.1" y="709.2" text-anchor="middle" font-size="6.9" fill="#3a3a3a" stroke="#3a3a3a" stroke-width="0.12">5</text>
<rect x="384.1" y="373.5" width="159.0" height="333.0" fill="#e9e9e9"/>
<line x1="406.3" x2="406.3" y1="373.5" y2="706.5" stroke="#f1f1f1" stroke-width="0.7"/>
<line x1="438.2" x2="438.2" y1="373.5" y2="706.5" stroke="#f1f1f1" stroke-width="0.7"/>
<line x1="470.0" x2="470.0" y1="373.5" y2="706.5" stroke="#f1f1f1" stroke-width="0.7"/>
<line x1="501.8" x2="501.8" y1="373.5" y2="706.5" stroke="#f1f1f1" stroke-width="0.7"/>
<line x1="533.7" x2="533.7" y1="373.5" y2="706.5" stroke="#f1f1f1" stroke-width="0.7"/>
<line x1="390.4" x2="390.4" y1="373.5" y2="706.5" stroke="#f7f7f7" stroke-width="0.9"/>
<line x1="422.2" x2="422.2" y1="373.5" y2="706.5" stroke="#f7f7f7" stroke-width="0.9"/>
<line x1="454.1" x2="454.1" y1="373.5" y2="706.5" stroke="#f7f7f7" stroke-width="0.9"/>
<line x1="485.9" x2="485.9" y1="373.5" y2="706.5" stroke="#f7f7f7" stroke-width="0.9"/>
<line x1="517.8" x2="517.8" y1="373.5" y2="706.5" stroke="#f7f7f7" stroke-width="0.9"/>
<line x1="384.1" x2="543.1" y1="387.0" y2="387.0" stroke="#f7f7f7" stroke-width="0.9"/>
<line x1="384.1" x2="543.1" y1="410.6" y2="410.6" stroke="#f7f7f7" stroke-width="0.9"/>
<line x1="384.1" x2="543.1" y1="434.2" y2="434.2" stroke="#f7f7f7" stroke-width="0.9"/>
<line x1="384.1" x2="543.1" y1="457.8" y2="457.8" stroke="#f7f7f7" stroke-width="0.9"/>
<line x1="384.1" x2="543.1" y1="481.4" y2="481.4" stroke="#f7f7f7" stroke-width="0.9"/>
<line x1="384.1" x2="543.1" y1="504.9" y2="504.9" stroke="#f7f7f7" stroke-width="0.9"/>
<line x1="384.1" x2="543.1" y1="528.5" y2="528.5" stroke="#f7f7f7" stroke-width="0.9"/>
<line x1="384.1" x2="543.1" y1="552.1" y2="552.1" stroke="#f7f7f7" stroke-width="0.9"/>
<line x1="384.1" x2="543.1" y1="575.7" y2="575.7" stroke="#f7f7f7" stroke-width="0.9"/>
<line x1="384.1" x2="543.1" y1="599.3" y2="599.3" stroke="#f7f7f7" stroke-width="0.9"/>
<line x1="384.1" x2="543.1" y1="622.9" y2="622.9" stroke="#f7f7f7" stroke-width="0.9"/>
<line x1="384.1" x2="543.1" y1="646.5" y2="646.5" stroke="#f7f7f7" stroke-width="0.9"/>
<line x1="384.1" x2="543.1" y1="670.1" y2="670.1" stroke="#f7f7f7" stroke-width="0.9"/>
<line x1="384.1" x2="543.1" y1="693.7" y2="693.7" stroke="#f7f7f7" stroke-width="0.9"/>
<rect x="390.4" y="376.2" width="145.5" height="21.6" fill="#7c0b0a"/>
<text x="533.4" y="389.4" text-anchor="end" font-size="7.0" fill="#ffffff" stroke="#ffffff" stroke-width="0.2" textLength="27.8" lengthAdjust="spacingAndGlyphs">0.0000269</text>
<line x1="382.4" x2="384.59999999999997" y1="387.0" y2="387.0" stroke="#222" stroke-width="1.1"/>
<rect x="390.4" y="399.8" width="89.2" height="21.6" fill="#dc191b"/>
<text x="477.1" y="413.0" text-anchor="end" font-size="7.0" fill="#ffffff" stroke="#ffffff" stroke-width="0.2" textLength="27.8" lengthAdjust="spacingAndGlyphs">0.0015825</text>
<line x1="382.4" x2="384.59999999999997" y1="410.6" y2="410.6" stroke="#222" stroke-width="1.1"/>
<rect x="390.4" y="423.4" width="78.2" height="21.6" fill="#ee1c1f"/>
<text x="466.1" y="436.6" text-anchor="end" font-size="7.0" fill="#ffffff" stroke="#ffffff" stroke-width="0.2" textLength="27.8" lengthAdjust="spacingAndGlyphs">0.0034952</text>
<line x1="382.4" x2="384.59999999999997" y1="434.2" y2="434.2" stroke="#222" stroke-width="1.1"/>
<rect x="390.4" y="447.0" width="78.2" height="21.6" fill="#ee1c1f"/>
<text x="466.1" y="460.2" text-anchor="end" font-size="7.0" fill="#ffffff" stroke="#ffffff" stroke-width="0.2" textLength="27.8" lengthAdjust="spacingAndGlyphs">0.0034952</text>
<line x1="382.4" x2="384.59999999999997" y1="457.8" y2="457.8" stroke="#222" stroke-width="1.1"/>
<rect x="390.4" y="470.6" width="74.9" height="21.6" fill="#f41d21"/>
<text x="462.8" y="483.8" text-anchor="end" font-size="7.0" fill="#ffffff" stroke="#ffffff" stroke-width="0.2" textLength="27.8" lengthAdjust="spacingAndGlyphs">0.0044568</text>
<line x1="382.4" x2="384.59999999999997" y1="481.4" y2="481.4" stroke="#222" stroke-width="1.1"/>
<rect x="390.4" y="494.1" width="72.0" height="21.6" fill="#f91e22"/>
<text x="459.9" y="507.3" text-anchor="end" font-size="7.0" fill="#ffffff" stroke="#ffffff" stroke-width="0.2" textLength="27.8" lengthAdjust="spacingAndGlyphs">0.0054876</text>
<line x1="382.4" x2="384.59999999999997" y1="504.9" y2="504.9" stroke="#222" stroke-width="1.1"/>
<rect x="390.4" y="517.7" width="70.8" height="21.6" fill="#fa1e22"/>
<text x="458.7" y="530.9" text-anchor="end" font-size="7.0" fill="#ffffff" stroke="#ffffff" stroke-width="0.2" textLength="27.8" lengthAdjust="spacingAndGlyphs">0.0059851</text>
<line x1="382.4" x2="384.59999999999997" y1="528.5" y2="528.5" stroke="#222" stroke-width="1.1"/>
<rect x="390.4" y="541.3" width="69.7" height="21.6" fill="#fa1e22"/>
<text x="457.6" y="554.5" text-anchor="end" font-size="7.0" fill="#ffffff" stroke="#ffffff" stroke-width="0.2" textLength="27.8" lengthAdjust="spacingAndGlyphs">0.0064824</text>
<line x1="382.4" x2="384.59999999999997" y1="552.1" y2="552.1" stroke="#222" stroke-width="1.1"/>
<rect x="390.4" y="564.9" width="68.7" height="21.6" fill="#fa1e22"/>
<text x="456.6" y="578.1" text-anchor="end" font-size="7.0" fill="#ffffff" stroke="#ffffff" stroke-width="0.2" textLength="27.8" lengthAdjust="spacingAndGlyphs">0.0069795</text>
<line x1="382.4" x2="384.59999999999997" y1="575.7" y2="575.7" stroke="#222" stroke-width="1.1"/>
<rect x="390.4" y="588.5" width="68.7" height="21.6" fill="#fa1e22"/>
<text x="456.6" y="601.7" text-anchor="end" font-size="7.0" fill="#ffffff" stroke="#ffffff" stroke-width="0.2" textLength="27.8" lengthAdjust="spacingAndGlyphs">0.0069795</text>
<line x1="382.4" x2="384.59999999999997" y1="599.3" y2="599.3" stroke="#222" stroke-width="1.1"/>
<rect x="390.4" y="612.1" width="67.7" height="21.6" fill="#fa1e22"/>
<text x="455.6" y="625.3" text-anchor="end" font-size="7.0" fill="#ffffff" stroke="#ffffff" stroke-width="0.2" textLength="27.8" lengthAdjust="spacingAndGlyphs">0.0074763</text>
<line x1="382.4" x2="384.59999999999997" y1="622.9" y2="622.9" stroke="#222" stroke-width="1.1"/>
<rect x="390.4" y="635.7" width="67.7" height="21.6" fill="#fa1e22"/>
<text x="455.6" y="648.9" text-anchor="end" font-size="7.0" fill="#ffffff" stroke="#ffffff" stroke-width="0.2" textLength="27.8" lengthAdjust="spacingAndGlyphs">0.0074763</text>
<line x1="382.4" x2="384.59999999999997" y1="646.5" y2="646.5" stroke="#222" stroke-width="1.1"/>
<rect x="390.4" y="659.3" width="64.4" height="21.6" fill="#fa1e22"/>
<text x="452.3" y="672.5" text-anchor="end" font-size="7.0" fill="#ffffff" stroke="#ffffff" stroke-width="0.2" textLength="27.8" lengthAdjust="spacingAndGlyphs">0.0094615</text>
<line x1="382.4" x2="384.59999999999997" y1="670.1" y2="670.1" stroke="#222" stroke-width="1.1"/>
<rect x="390.4" y="682.9" width="64.4" height="21.6" fill="#fa1e22"/>
<text x="452.3" y="696.1" text-anchor="end" font-size="7.0" fill="#ffffff" stroke="#ffffff" stroke-width="0.2" textLength="27.8" lengthAdjust="spacingAndGlyphs">0.0094615</text>
<line x1="382.4" x2="384.59999999999997" y1="693.7" y2="693.7" stroke="#222" stroke-width="1.1"/>
<text x="379.6" y="388.8" text-anchor="end" font-size="7.3" fill="#30343f" stroke="#30343f" stroke-width="0.18" textLength="80.7" lengthAdjust="spacingAndGlyphs">Other glycan degradation</text>
<text x="379.6" y="413.0" text-anchor="end" font-size="7.3" fill="#30343f" stroke="#30343f" stroke-width="0.18" textLength="30.1" lengthAdjust="spacingAndGlyphs">Lysosome</text>
<text x="379.6" y="436.5" text-anchor="end" font-size="7.3" fill="#30343f" stroke="#30343f" stroke-width="0.18" textLength="107.1" lengthAdjust="spacingAndGlyphs">Phosphatidylglycerol biosynthesis</text>
<text x="379.6" y="459.9" text-anchor="end" font-size="7.3" fill="#30343f" stroke="#30343f" stroke-width="0.18" textLength="79.0" lengthAdjust="spacingAndGlyphs">Anandamide metabolism</text>
<text x="379.6" y="482.9" text-anchor="end" font-size="7.3" fill="#30343f" stroke="#30343f" stroke-width="0.18" textLength="80.7" lengthAdjust="spacingAndGlyphs">Phospholipid metabolism</text>
<text x="380.7" y="505.9" text-anchor="end" font-size="5.1" fill="#30343f" stroke="#30343f" stroke-width="0.18" textLength="64.7" lengthAdjust="spacingAndGlyphs">Keratan sulfate degradation</text>
<text x="289.6" y="526.6" font-size="7.3" fill="#30343f" stroke="#30343f" stroke-width="0.18" textLength="89.9" lengthAdjust="spacingAndGlyphs">Caspase−mediated cleavage</text>
<text x="289.6" y="535.9" font-size="7.3" fill="#30343f" stroke="#30343f" stroke-width="0.18" textLength="72.8" lengthAdjust="spacingAndGlyphs">of cytoskeletal proteins</text>
<text x="286.0" y="552.5" font-size="7.3" fill="#30343f" stroke="#30343f" stroke-width="0.18" textLength="93.5" lengthAdjust="spacingAndGlyphs">Chondroitin sulfate/dermatan</text>
<text x="287.2" y="561.7" font-size="7.3" fill="#30343f" stroke="#30343f" stroke-width="0.18" textLength="61.2" lengthAdjust="spacingAndGlyphs">sulfate degradation</text>
<text x="379.6" y="577.1" text-anchor="end" font-size="7.3" fill="#30343f" stroke="#30343f" stroke-width="0.18" textLength="74.8" lengthAdjust="spacingAndGlyphs">Hyaluronan metabolism</text>
<text x="299.4" y="598.4" font-size="7.3" fill="#30343f" stroke="#30343f" stroke-width="0.18" textLength="53.2" lengthAdjust="spacingAndGlyphs">Glycosphingolipid</text>
<text x="299.4" y="608.2" font-size="7.3" fill="#30343f" stroke="#30343f" stroke-width="0.18" textLength="80.1" lengthAdjust="spacingAndGlyphs">biosynthesis: globo series</text>
<text x="290.4" y="622.8" font-size="7.3" fill="#30343f" stroke="#30343f" stroke-width="0.18" textLength="89.1" lengthAdjust="spacingAndGlyphs">Glycosylation of mammalian</text>
<text x="292.1" y="632.1" font-size="7.3" fill="#30343f" stroke="#30343f" stroke-width="0.18" textLength="78.3" lengthAdjust="spacingAndGlyphs">N−linked oligosaccarides</text>
<text x="280.4" y="644.8" font-size="7.3" fill="#30343f" stroke="#30343f" stroke-width="0.18" textLength="99.1" lengthAdjust="spacingAndGlyphs">Glycosphingolipid biosynthesis:</text>
<text x="281.8" y="654.6" font-size="7.3" fill="#30343f" stroke="#30343f" stroke-width="0.18" textLength="42.2" lengthAdjust="spacingAndGlyphs">ganglio series</text>
<text x="379.6" y="671.2" text-anchor="end" font-size="7.3" fill="#30343f" stroke="#30343f" stroke-width="0.18" textLength="101.7" lengthAdjust="spacingAndGlyphs">Glycosaminoglycan degradation</text>
<text x="294.0" y="693.0" font-size="7.3" fill="#30343f" stroke="#30343f" stroke-width="0.18" textLength="85.5" lengthAdjust="spacingAndGlyphs">ER−associated degradation</text>
<text x="295.7" y="702.3" font-size="7.3" fill="#30343f" stroke="#30343f" stroke-width="0.18" textLength="49.5" lengthAdjust="spacingAndGlyphs">(ERAD) pathway</text>
<text x="390.4" y="713.4" text-anchor="middle" font-size="6.9" fill="#3a3a3a" stroke="#3a3a3a" stroke-width="0.12">0</text>
<text x="422.2" y="713.4" text-anchor="middle" font-size="6.9" fill="#3a3a3a" stroke="#3a3a3a" stroke-width="0.12">1</text>
<text x="454.1" y="713.4" text-anchor="middle" font-size="6.9" fill="#3a3a3a" stroke="#3a3a3a" stroke-width="0.12">2</text>
<text x="485.9" y="713.4" text-anchor="middle" font-size="6.9" fill="#3a3a3a" stroke="#3a3a3a" stroke-width="0.12">3</text>
<text x="517.8" y="713.4" text-anchor="middle" font-size="6.9" fill="#3a3a3a" stroke="#3a3a3a" stroke-width="0.12">4</text>
<text x="117.6" y="14.5" font-size="13.4" fill="#141414" stroke="#141414" stroke-width="0.22"><tspan font-style="italic">Slamf1</tspan><tspan font-style="italic" font-size="7.6" dy="-5.4" dx="0.5">-/-</tspan></text>
<text x="169.6" y="14.5" font-size="12.8" fill="#141414" stroke="#141414" stroke-width="0.22">Y</text>
<text x="368.4" y="14.5" font-size="13.4" fill="#141414" stroke="#141414" stroke-width="0.22"><tspan font-style="italic">Slamf1</tspan><tspan font-style="italic" font-size="7.6" dy="-5.4" dx="0.5">-/-</tspan></text>
<text x="419.3" y="14.5" font-size="12.8" fill="#141414" stroke="#141414" stroke-width="0.22" textLength="30.8" lengthAdjust="spacingAndGlyphs">VFRA</text>
<text transform="translate(18.5,239.3) rotate(-90)" font-size="14.6" fill="#141414" stroke="#141414" stroke-width="0.35" textLength="83" lengthAdjust="spacingAndGlyphs">UPREGULATED</text>
<text transform="translate(18.7,587.9) rotate(-90)" font-size="14.6" fill="#141414" stroke="#141414" stroke-width="0.35" textLength="108" lengthAdjust="spacingAndGlyphs">DOWNREGULATED</text>
<text x="234.4" y="729.3" font-size="12" fill="#141414" stroke="#141414" stroke-width="0.25" textLength="100" lengthAdjust="spacingAndGlyphs">−Log10 (p−value)</text>
<defs><linearGradient id="lg" x1="0" y1="0" x2="0" y2="1"><stop offset="0" stop-color="#000000"/><stop offset="0.2" stop-color="#280303"/><stop offset="0.4" stop-color="#5a0909"/><stop offset="0.6" stop-color="#921313"/><stop offset="0.8" stop-color="#cc1b1d"/><stop offset="0.94" stop-color="#f81e21"/><stop offset="1" stop-color="#fa1e22"/></linearGradient></defs>
<rect x="290.0" y="309.9" width="17.8" height="63.7" fill="url(#lg)"/>
<text x="285.6" y="294.4" font-size="7.6" font-weight="bold" fill="#2a2d3a" textLength="23.5" lengthAdjust="spacingAndGlyphs">-Log10</text>
<text x="285.2" y="304.2" font-size="7.6" font-weight="bold" fill="#2a2d3a" textLength="31" lengthAdjust="spacingAndGlyphs">(p-value)</text>
<text x="312.5" y="316.9" text-anchor="middle" font-size="8" font-weight="bold" fill="#2a2d3a">7</text>
<text x="312.5" y="328.0" text-anchor="middle" font-size="8" font-weight="bold" fill="#2a2d3a">6</text>
<text x="312.5" y="338.9" text-anchor="middle" font-size="8" font-weight="bold" fill="#2a2d3a">5</text>
<text x="312.5" y="349.7" text-anchor="middle" font-size="8" font-weight="bold" fill="#2a2d3a">4</text>
<text x="312.5" y="360.9" text-anchor="middle" font-size="8" font-weight="bold" fill="#2a2d3a">3</text>
<text x="312.5" y="371.7" text-anchor="middle" font-size="8" font-weight="bold" fill="#2a2d3a">2</text>
</svg>
</body></html>
